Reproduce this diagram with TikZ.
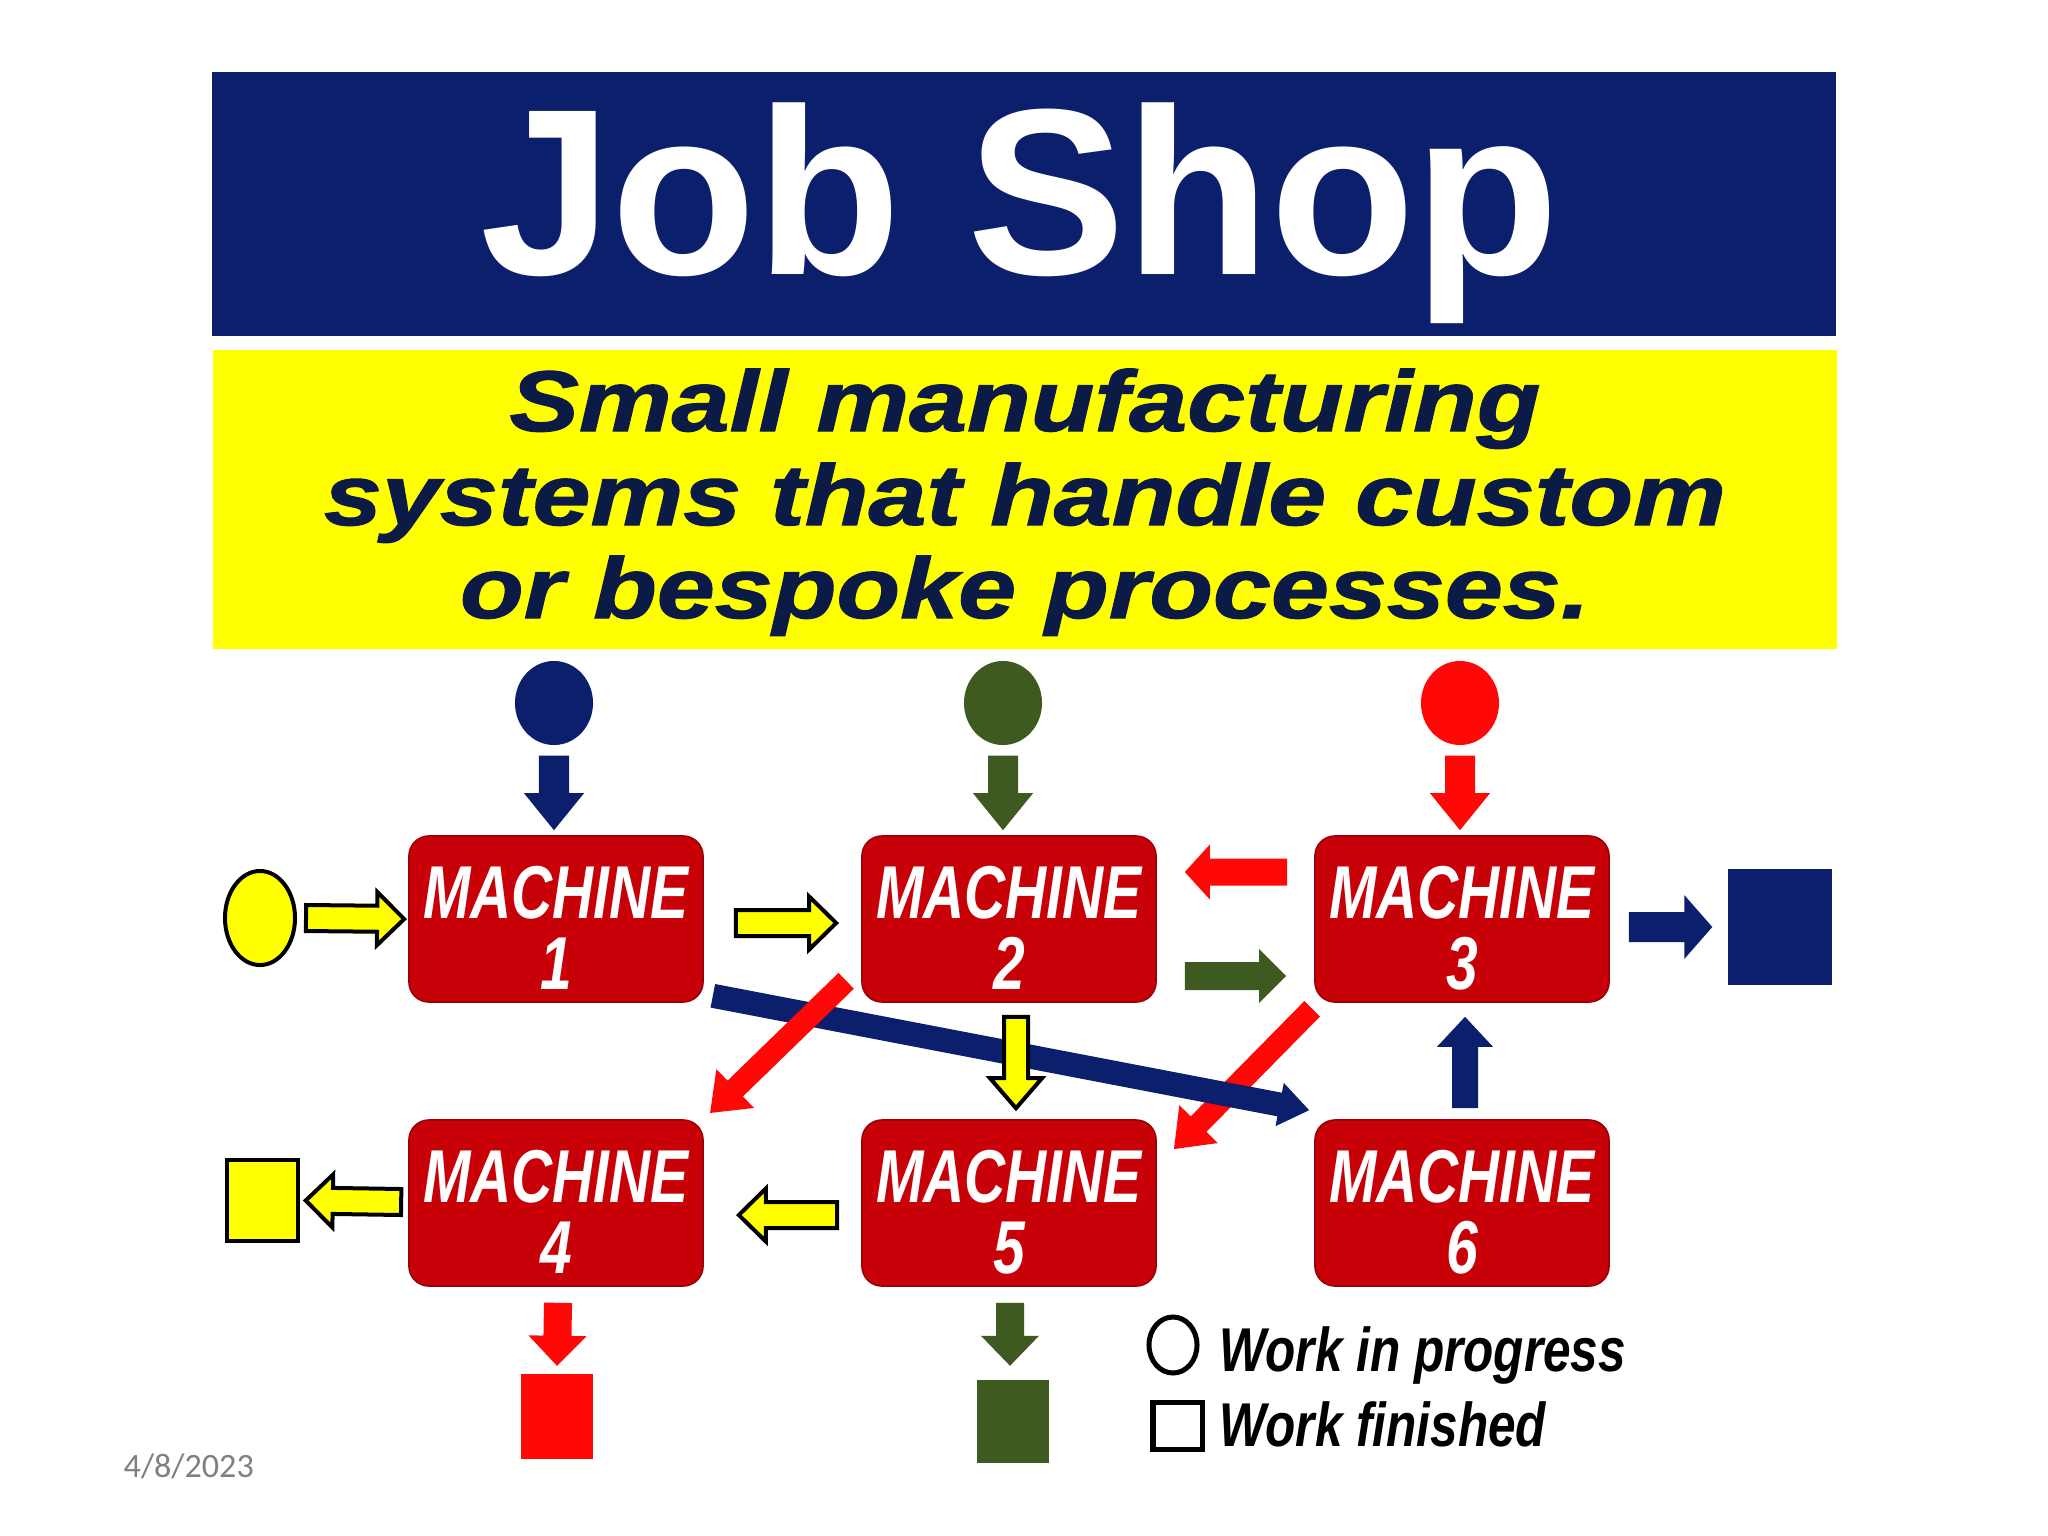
\documentclass[tikz,border=0pt]{standalone}
\usepackage{fontspec}
\usepackage{graphicx}
\setmainfont{Liberation Sans}
\newfontfamily\heavyfont[BoldItalicFeatures={FakeBold=1.2}]{Liberation Sans}
\newfontfamily\datefont{Carlito}
\usetikzlibrary{calc,shapes.geometric}

\definecolor{navy}{RGB}{11,31,108}
\definecolor{subnavy}{RGB}{12,26,70}
\definecolor{ylw}{RGB}{255,255,0}
\definecolor{boxred}{RGB}{200,0,8}
\definecolor{brred}{RGB}{255,8,8}
\definecolor{olive}{RGB}{62,90,32}
\definecolor{dategray}{RGB}{128,128,128}

\tikzset{
  barrow/.style n args={3}{% half shaft, head length, half head (all in px)
    to path={
      let \p1=(\tikztostart), \p2=(\tikztotarget),
          \n1={atan2(\y2-\y1,\x2-\x1)},
          \n2={veclen(\x2-\x1,\y2-\y1)},
          \n3={\n2-#2*0.28453pt},
          \n4={#1*0.28453pt},
          \n5={#3*0.28453pt}
      in ([shift={(\p1)},rotate=\n1]0pt,-\n4)
      -- ([shift={(\p1)},rotate=\n1]\n3,-\n4)
      -- ([shift={(\p1)},rotate=\n1]\n3,-\n5)
      -- ([shift={(\p1)},rotate=\n1]\n2,0pt)
      -- ([shift={(\p1)},rotate=\n1]\n3,\n5)
      -- ([shift={(\p1)},rotate=\n1]\n3,\n4)
      -- ([shift={(\p1)},rotate=\n1]0pt,\n4)
      -- cycle
    }},
  yarrow/.style={draw=black, line width=0.04cm, fill=ylw, line join=miter},
  bar/.style={inner sep=0, outer sep=0, anchor=north west},
  machine/.style={fill=boxred, draw=boxred!75!black, line width=0.015cm,
    rounded corners=0.2cm, minimum width=2.94cm, minimum height=1.66cm, inner sep=0},
  mlabel/.style={anchor=base, inner sep=0, text=white,
    font=\bfseries\itshape\fontsize{21.3}{22}\selectfont},
  subtext/.style={anchor=base, inner sep=0, text=subnavy,
    font=\heavyfont\bfseries\itshape\fontsize{24.5}{26}\selectfont},
  src/.style={ellipse, inner sep=0, minimum width=0.78cm, minimum height=0.84cm},
  sink/.style={rectangle, inner sep=0},
  legtext/.style={anchor=base west, inner sep=0, text=black,
    font=\bfseries\itshape\fontsize{17.6}{20}\selectfont},
}

\begin{document}
\begin{tikzpicture}[x=0.01cm,y=-0.01cm]
\useasboundingbox[fill=white] (0,0) rectangle (2048,1536);

% banners
\node[bar, fill=navy, minimum width=16.23cm, minimum height=2.64cm] (titlebar) at (212,72) {};
\node[anchor=base, inner sep=0, text=white, font=\bfseries\fontsize{67.4}{70}\selectfont] (title) at (1020,274) {Job Shop};
\node[bar, fill=ylw, minimum width=16.23cm, minimum height=2.99cm] (subbar) at (213,350) {};
\node[subtext] (sub1) at (1025,431) {\scalebox{1.21}[1]{Small manufacturing}};
\node[subtext] (sub2) at (1025,525) {\scalebox{1.21}[1]{systems that handle custom}};
\node[subtext] (sub3) at (1025,618) {\scalebox{1.21}[1]{or bespoke processes.}};

% sources
\node[src, fill=ylw, draw=black, line width=0.04cm, minimum width=0.70cm, minimum height=0.94cm] (c0) at (260,918) {};
\node[src, fill=navy] (c1) at (554,703) {};
\node[src, fill=olive] (c2) at (1003,703) {};
\node[src, fill=brred] (c3) at (1460,703) {};

% sinks
\node[sink, fill=ylw, draw=black, line width=0.035cm, minimum width=0.71cm, minimum height=0.81cm] (s0) at (262.5,1200.5) {};
\node[sink, fill=brred, minimum width=0.72cm, minimum height=0.85cm] (s4) at (557,1416.5) {};
\node[sink, fill=olive, minimum width=0.72cm, minimum height=0.83cm] (s5) at (1013,1421.5) {};
\node[sink, fill=navy, minimum width=1.04cm, minimum height=1.16cm] (s3) at (1780,927) {};

% machines
\foreach \i/\px/\py in {1/556/919,2/1009/919,3/1462/919,4/556/1203,5/1009/1203,6/1462/1203}{
  \node[machine] (m\i) at (\px,\py) {};
  \node[mlabel] (mt\i) at ($(m\i.center)+(0,-1)$) {\scalebox{0.76}[1]{MACHINE}};
  \node[mlabel] (mn\i) at ($(m\i.center)+(0,70)$) {\scalebox{0.76}[1]{\i}};
}

% inputs from circles
\path[fill=navy, barrow={15}{37}{30}] ($(c1.south)+(0,10)$) to ($(c1.south |- m1.north)+(0,-5)$);
\path[fill=olive, barrow={15}{37}{30}] ($(c2.south)+(0,10)$) to ($(c2.south |- m2.north)+(0,-5)$);
\path[fill=brred, barrow={15}{37}{30}] ($(c3.south)+(0,10)$) to ($(c3.south |- m3.north)+(0,-5)$);

% yellow route
\draw[yarrow, barrow={13}{27}{26.5}] ($(c0.east)+(9,0)$) to ($(m1.west)+(-4,0)$);
\draw[yarrow, barrow={13}{27}{26.5}] ($(m1.east)+(32,4)$) to ($(m2.west)+(-25,4)$);

% between M2 and M3
\path[fill=brred, barrow={13.5}{25}{27.5}] ($(m3.west)+(-27,-47)$) to ($(m2.east)+(28,-47)$);
\path[fill=olive, barrow={14}{27}{27}] ($(m2.east)+(28,57)$) to ($(m3.west)+(-28,57)$);
\path[fill=navy, barrow={15}{28}{32}] ($(m3.east)+(19,8)$) to ($(s3.west)+(-15,0)$);

% diagonals and crossings
\path[fill=brred, barrow={11}{35}{27}] ($(m3.south west)+(-2,6)$) to ($(m5.north east)+(17,30)$);
\path[fill=navy, barrow={12}{30}{22}] ($(m1.south east)+(9,-7)$) to ($(m6.north west)+(-5,-9)$);
\path[fill=brred, barrow={11}{35}{27}] ($(m2.south west)+(-15,-22)$) to ($(m4.north east)+(6,-6)$);
\draw[yarrow, barrow={12}{30}{26}] ($(m2.south)+(7,14)$) to ($(m5.north)+(7,-11)$);
\path[fill=navy, barrow={13}{30}{28}] ($(m6.north)+(3,-11)$) to ($(m3.south)+(3,14)$);

% lower row
\draw[yarrow, barrow={13}{27}{26.5}] ($(m5.west)+(-24,12)$) to ($(m4.east)+(35,12)$);
\draw[yarrow, barrow={13}{27}{26.5}] ($(m4.west)+(-7,-1)$) to ($(s0.east)+(6,0)$);
\path[fill=brred, barrow={14}{30}{29}] ($(m4.south)+(2,16)$) to ($(m4.south -| s4.north)+(0,79)$);
\path[fill=olive, barrow={14}{30}{29}] ($(m5.south)+(1,16)$) to ($(m5.south)+(1,79)$);

% legend
\node[ellipse, draw=black, line width=0.05cm, minimum width=0.48cm, minimum height=0.56cm, inner sep=0] (lc) at (1173,1345) {};
\node[rectangle, draw=black, line width=0.05cm, minimum width=0.49cm, minimum height=0.47cm, inner sep=0] (ls) at (1177.5,1425.5) {};
\node[legtext] (lt1) at (1219,1371) {\scalebox{0.8}[1]{Work in progress}};
\node[legtext] (lt2) at (1219,1446) {\scalebox{0.8}[1]{Work finished}};

% date
\node[anchor=base west, inner sep=0, text=dategray, font=\datefont\fontsize{9.7}{11}\selectfont] (date) at (123,1477) {4/8/2023};
\end{tikzpicture}
\end{document}
